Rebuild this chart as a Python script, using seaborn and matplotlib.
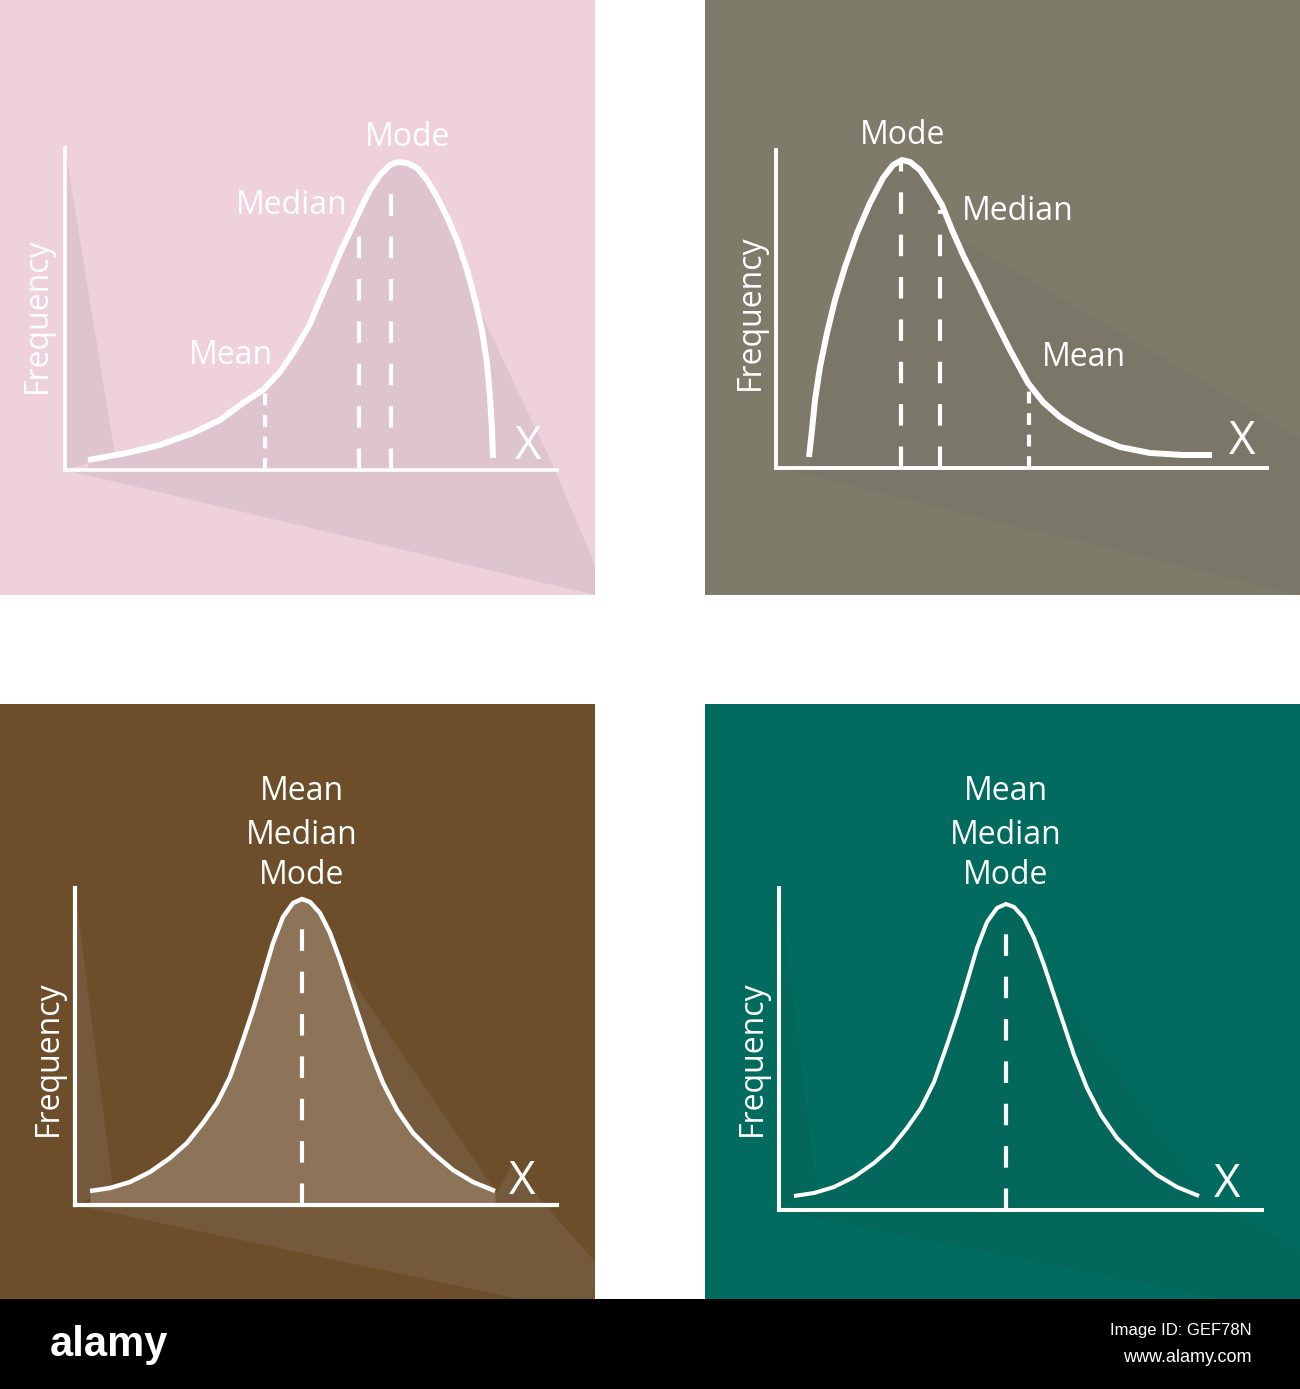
import matplotlib

matplotlib.use("Agg")
import matplotlib.pyplot as plt
import seaborn as sns

# ── Data ─────────────────────────────────────────────────────────────────────
# x = distance from the y-axis, y = height above the x-axis (px of the original)
left_skew_x = [23, 62, 95, 128, 155, 178, 198, 215, 228, 245, 255, 265, 275, 285,
               295, 305, 315, 325, 333, 342, 352, 362, 372, 382, 392, 402, 410,
               417, 422, 425, 427, 428]
left_skew_y = [10, 17, 25, 37, 50, 67, 80, 98, 117, 146, 170, 193, 217, 238,
               260, 280, 295, 305, 308, 307, 302, 290, 273, 253, 230, 200, 170,
               140, 107, 73, 40, 12]

right_skew_x = [33, 36, 39, 44, 51, 59, 69, 81, 94, 107, 117, 126, 134, 144, 154,
                166, 176, 188, 201, 214, 227, 234, 252, 267, 284, 301, 321, 344,
                374, 407, 436]
right_skew_y = [11, 38, 68, 101, 135, 168, 201, 235, 265, 290, 303, 308, 306, 298,
                283, 263, 238, 211, 185, 158, 132, 118, 85, 66, 51, 40, 30, 21,
                15, 13, 13]

normal_x = [15, 35, 55, 75, 95, 112, 128, 142, 155, 168, 178, 188, 198, 208, 218,
            227, 235, 245, 255, 265, 275, 285, 295, 308, 322, 338, 358, 378, 398, 420]
normal_y = [14, 17, 23, 33, 47, 62, 82, 102, 128, 165, 195, 228, 262, 288, 302,
            306, 303, 292, 272, 245, 215, 185, 155, 122, 95, 72, 52, 35, 23, 14]

# dashed markers: label, x position, height of the dashed line
left_marks = ["Mean", "Median", "Mode"]
left_marks_x = [200, 294, 326]
left_marks_h = [77, 253, 283]

right_marks = ["Mode", "Median", "Mean"]
right_marks_x = [125, 164, 253]
right_marks_h = [308, 258, 85]

normal_marks = ["Mean", "Median", "Mode"]
normal_marks_x = [227]
normal_marks_h = [282]

# ── Style ────────────────────────────────────────────────────────────────────
sns.set_theme(style="white")
plt.rcParams["font.family"] = ["Open Sans", "DejaVu Sans"]
plt.rcParams["lines.scale_dashes"] = False

W, H = 1300, 1389
fig = plt.figure(figsize=(W / 100, H / 100), dpi=100, facecolor="white")

LONG_DASH = (0, (15.5, 15.0))
SHORT_DASH = (0, (8.5, 7.0))
FS = 23

panels = [
    dict(
        rect=(0, 0), origin=(65, 470), axis_len=(492, 322),
        bg="#eed1db", shade="#ddc4cf", fill=None, lw=4.3, axis_lw=2.6,
        curve=(left_skew_x, left_skew_y),
        marks=(left_marks_x, left_marks_h), dashes=[SHORT_DASH, LONG_DASH, LONG_DASH],
        under_shade=True,
        polys=[[(0, 322), (50, 15), (0, 0)],
               [(0, 0), (380, 0), (410, 170), (490, 0), (530, -95), (530, -125)]],
        labels=[(left_marks[0], 166, 114, "center"), (left_marks[1], 227, 264, "center"),
                (left_marks[2], 343, 332, "center")],
        x_label=(463, 23), freq=(-28, 155),
    ),
    dict(
        rect=(705, 0), origin=(71, 468), axis_len=(491, 318),
        bg="#7e7b6b", shade="#7a7768", fill=None, lw=4.3, axis_lw=2.8,
        curve=(right_skew_x, right_skew_y),
        marks=(right_marks_x, right_marks_h), dashes=[LONG_DASH, LONG_DASH, SHORT_DASH],
        under_shade=True,
        polys=[[(0, 0), (200, 0), (170, 237), (524, 30), (524, -127)]],
        labels=[(right_marks[0], 127, 333, "center"), (right_marks[1], 186, 256, "left"),
                (right_marks[2], 266, 111, "left")],
        x_label=(466, 26), freq=(-26, 156),
    ),
    dict(
        rect=(0, 704), origin=(75, 501), axis_len=(482, 317),
        bg="#6c4f2a", shade="#74593b", fill="#8d7358", lw=3.2, axis_lw=3.0,
        curve=(normal_x, normal_y),
        marks=(normal_marks_x, normal_marks_h), dashes=[LONG_DASH],
        under_shade=False,
        polys=[[(0, 317), (38, 15), (0, 0)],
               [(0, 0), (250, 0), (268, 238), (422, 12), (438, 42), (470, 0),
                (523, -60), (523, -94), (445, -94)]],
        labels=[(normal_marks[0], 227, 413, "center"), (normal_marks[1], 227, 370, "center"),
                (normal_marks[2], 227, 330, "center")],
        x_label=(447, 23), freq=(-27, 147),
    ),
    dict(
        rect=(705, 704), origin=(74, 506), axis_len=(483, 322),
        bg="#016b60", shade="#03675c", fill=None, lw=2.9, axis_lw=2.9,
        curve=(normal_x, normal_y),
        marks=(normal_marks_x, normal_marks_h), dashes=[LONG_DASH],
        under_shade=True,
        polys=[[(0, 322), (38, 15), (0, 0)],
               [(0, 0), (250, 0), (268, 238), (425, 15), (521, -40), (521, -89), (440, -89)]],
        labels=[(normal_marks[0], 227, 418, "center"), (normal_marks[1], 227, 375, "center"),
                (normal_marks[2], 227, 335, "center")],
        x_label=(448, 25), freq=(-27, 152),
    ),
]

PANEL = 595
for p in panels:
    px, py = p["rect"]
    ox, oy = p["origin"]
    ax = fig.add_axes([px / W, 1 - (py + PANEL) / H, PANEL / W, PANEL / H])
    ax.set_facecolor(p["bg"])
    ax.set_xlim(-ox, PANEL - ox)
    ax.set_ylim(oy - PANEL, oy)
    ax.set_xticks([])
    ax.set_yticks([])

    # long flat shadows
    for poly in p["polys"]:
        xs, ys = zip(*poly)
        ax.fill(xs, ys, color=p["shade"], lw=0, zorder=1)

    cx, cy = p["curve"]
    if p["under_shade"]:
        ax.fill_between(cx, cy, 0, color=p["shade"], lw=0, zorder=1)
    if p["fill"]:
        ax.fill_between(cx, cy, 0, color=p["fill"], lw=0, zorder=2)

    sns.lineplot(x=cx, y=cy, ax=ax, color="white", linewidth=p["lw"],
                 solid_capstyle="butt", solid_joinstyle="round", zorder=4)

    mx, mh = p["marks"]
    for x, h, ls in zip(mx, mh, p["dashes"]):
        ax.vlines(x, 0, h, colors="white", linewidth=3.0, linestyles=[ls], zorder=3)

    # axes drawn as the left / bottom spines
    for side in ["top", "right"]:
        ax.spines[side].set_visible(False)
    ax.spines["left"].set_position(("data", 0))
    ax.spines["bottom"].set_position(("data", 0))
    ax.spines["left"].set_bounds(0, p["axis_len"][1])
    ax.spines["bottom"].set_bounds(0, p["axis_len"][0])
    for side in ["left", "bottom"]:
        ax.spines[side].set_color("white")
        ax.spines[side].set_linewidth(p["axis_lw"])
        ax.spines[side].set_zorder(5)

    for text, tx, ty, ha in p["labels"]:
        ax.text(tx, ty, text, ha=ha, va="center", color="white", fontsize=FS, zorder=6)
    ax.text(*p["x_label"], "X", ha="center", va="center", color="white",
            fontsize=33, zorder=6)
    ax.text(*p["freq"], "Frequency", ha="center", va="center", rotation=90,
            color="white", fontsize=FS, zorder=6)

# ── bottom banner ────────────────────────────────────────────────────────────
bar = fig.add_axes([0, 0, 1, 90 / H])
bar.set_facecolor("black")
bar.set_xlim(0, W)
bar.set_ylim(0, 90)
bar.set_xticks([])
bar.set_yticks([])
for s in bar.spines.values():
    s.set_visible(False)
narrow = ["DejaVu Sans Condensed", "Liberation Sans", "DejaVu Sans"]
bar.text(50, 44, "alamy", family=narrow, fontweight="bold", fontsize=30,
         color="white", ha="left", va="center")
bar.text(1252, 58, "Image ID: GEF78N", family=narrow, fontsize=12,
         color="white", ha="right", va="center")
bar.text(1252, 32, "www.alamy.com", family=narrow, fontsize=13,
         color="white", ha="right", va="center")

plt.savefig("out.png", dpi=100, facecolor="white")
